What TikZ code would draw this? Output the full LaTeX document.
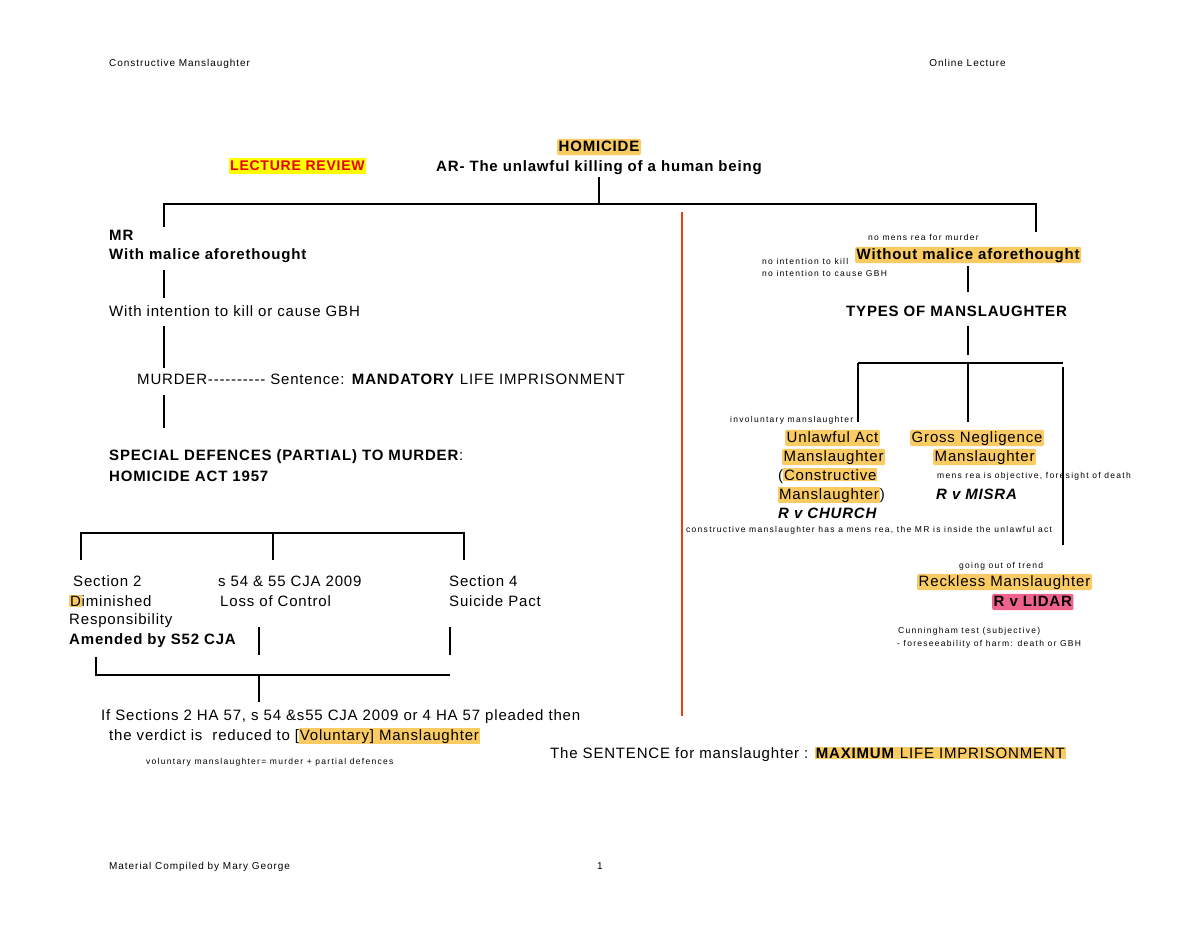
\documentclass[tikz,border=0pt]{standalone}
\usepackage{fontspec}
\setmainfont[LetterSpace=5.5]{Liberation Sans}
\newfontfamily\tinyfont[LetterSpace=15]{Liberation Sans}
\newfontfamily\hdrfont[LetterSpace=9.5]{Liberation Sans}
\definecolor{hlorange}{RGB}{250,203,98}
\definecolor{hlpink}{RGB}{238,98,140}
\definecolor{hlyellow}{RGB}{255,255,0}
\definecolor{lecred}{RGB}{232,0,0}
\definecolor{redrule}{RGB}{232,62,24}
\newcommand{\hlt}[1]{{\setlength{\fboxsep}{0.8pt}\colorbox{hlorange}{#1}}}
\newcommand{\dashrun}{-{}-{}-{}-{}-{}-{}-{}-{}-{}-}
\begin{document}
\begin{tikzpicture}[x=1pt,y=-1pt,
  txt/.style={inner sep=0pt,anchor=base west,font=\fontsize{15}{18}\selectfont,
    text height=11.2pt,text depth=3.2pt},
  bld/.style={txt,font=\fontsize{15}{18}\selectfont\bfseries},
  bit/.style={txt,font=\fontsize{15}{18}\selectfont\bfseries\itshape},
  small/.style={inner sep=0pt,anchor=base west,font=\fontsize{8.5}{10}\selectfont\tinyfont},
  hdr/.style={inner sep=0pt,anchor=base west,font=\fontsize{10}{12}\selectfont\hdrfont},
  hl/.style={fill=hlorange,rounded corners=2pt,inner xsep=1.5pt,inner ysep=1pt},
  conn/.style={line width=2.2pt},
  bar/.style={line width=2.6pt}]
  \useasboundingbox (0,0) rectangle (1200,927);
  % page header and footer
  \node[hdr] (hleft) at (109,66) {Constructive Manslaughter};
  \node[hdr,anchor=base east] (hright) at (1006,66) {Online Lecture};
  \node[hdr] (fleft) at (109,869) {Material Compiled by Mary George};
  \node[hdr,anchor=base] (fpage) at (600,869) {1};

  % top
  \node[bld,hl,anchor=base] (hom) at (599,151) {HOMICIDE};
  \node[bld,anchor=base] (ar) at (599,171) {AR- The unlawful killing of a human being};
  \node[bld,font=\fontsize{14}{16}\selectfont\bfseries,text=lecred,fill=hlyellow,inner xsep=1pt,inner ysep=1pt] (lec) at (229,170) {LECTURE REVIEW};
  \coordinate (topbar) at (599,204);
  \coordinate (tbl) at (164,204);
  \coordinate (tbr) at (1036,204);
  \coordinate (mrdrop) at (164,227);
  \coordinate (wmdrop) at (1036,232);
  \draw[conn,shorten <=3pt] (ar.south) -- (topbar);
  \draw[bar] (mrdrop) -- (tbl) -- (tbr) -- (wmdrop);
  \coordinate (rtop) at (682,212);
  \coordinate (rbot) at (682,716);
  \draw[redrule,line width=2.6pt] (rtop) -- (rbot);

  % murder side
  \coordinate (spine) at (164,0);
  \node[bld] (mr) at (109,240) {MR};
  \node[bld] (malice) at (109,259) {With malice aforethought};
  \node[txt] (intent) at (109,316) {With intention to kill or cause GBH};
  \node[txt] (murder) at (137,384) {MURDER\dashrun\ Sentence: \textbf{MANDATORY} LIFE IMPRISONMENT};
  \node[bld] (special) at (109,460) {SPECIAL DEFENCES (PARTIAL) TO MURDER\textmd{:}};
  \node[bld] (hact) at (109,481) {HOMICIDE ACT 1957};
  \draw[conn,shorten <=8pt,shorten >=7pt] (malice.south -| spine) -- (intent.north -| spine);
  \draw[conn,shorten <=7pt,shorten >=5pt] (intent.south -| spine) -- (murder.north -| spine);
  \draw[conn,shorten <=8pt,shorten >=21pt] (murder.south -| spine) -- (special.north -| spine);

  % partial defences
  \node[txt] (sec2a) at (73,586) {Section 2};
  \node[txt] (sec2b) at (69,606) {\hlt{D}iminished};
  \node[txt] (sec2c) at (69,624) {Responsibility};
  \node[bld] (sec2d) at (69,644) {Amended by S52 CJA};
  \node[txt] (s54a) at (218,586) {s 54 \& 55 CJA 2009};
  \node[txt] (s54b) at (220,606) {Loss of Control};
  \node[txt] (sec4a) at (449,586) {Section 4};
  \node[txt] (sec4b) at (449,606) {Suicide Pact};
  \coordinate (dl) at (81,533);
  \coordinate (dm) at (273,533);
  \coordinate (dr) at (464,533);
  \draw[bar,shorten <=15pt,shorten >=15pt] (dl |- sec2a.north) -- (dl) -- (dr) -- (dr |- sec4a.north);
  \draw[bar,shorten >=15pt] (dm) -- (dm |- s54a.north);

  % verdict
  \coordinate (jl) at (96,675);
  \coordinate (jm) at (259,675);
  \coordinate (jr) at (450,675);
  \node[txt] (v1) at (101,720) {If Sections 2 HA 57, s 54 \&s55 CJA 2009 or 4 HA 57 pleaded then};
  \node[txt] (v2) at (109,740) {the verdict is \ reduced to [\hlt{Voluntary] Manslaughter}};
  \node[small] (vnote) at (146,764) {voluntary manslaughter= murder + partial defences};
  \draw[bar,shorten <=10pt] (jl |- sec2d.south) -- (jl) -- (jr);
  \draw[conn,shorten <=18pt,shorten >=20pt] (jm |- s54b.south) -- (jm);
  \draw[conn,shorten <=18pt,shorten >=20pt] (jr |- sec4b.south) -- (jr);
  \draw[conn,shorten >=7pt] (jm) -- (jm |- v1.north);
  \node[txt] (sent) at (550,758) {The SENTENCE for manslaughter : \hlt{\textbf{MAXIMUM} LIFE IMPRISONMENT}};

  % manslaughter side
  \node[small] (nomr) at (868,240) {no mens rea for murder};
  \node[bld,hl] (wma) at (855,259) {Without malice aforethought};
  \node[small] (noik) at (762,264) {no intention to kill};
  \node[small] (nocg) at (762,276) {no intention to cause GBH};
  \node[bld] (types) at (846,316) {TYPES OF MANSLAUGHTER};
  \coordinate (bl) at (858,363);
  \coordinate (bm) at (968,363);
  \coordinate (br) at (1063,363);
  \draw[conn,shorten <=3pt,shorten >=13pt] (wma.south -| bm) -- (types.north -| bm);
  \draw[conn,shorten <=7pt,shorten >=8pt] (types.south -| bm) -- (bm);
  \draw[bar] (bl) -- (br);

  \node[small] (invol) at (730,422) {involuntary manslaughter};
  \node[txt,hl] (ual1) at (785,442) {Unlawful Act};
  \node[txt,hl] (ual2) at (782,461) {Manslaughter};
  \node[txt] (ual3) at (778,480) {(\hlt{Constructive}};
  \node[txt] (ual4) at (778,499) {\hlt{Manslaughter})};
  \node[bit] (church) at (778,518) {R v CHURCH};
  \node[txt,hl] (gn1) at (910,442) {Gross Negligence};
  \node[txt,hl] (gn2) at (933,461) {Manslaughter};
  \node[small] (mrobj) at (937,478) {mens rea is objective, foresight of death};
  \node[bit] (misra) at (936,499) {R v MISRA};
  \node[small] (constr) at (686,532) {constructive manslaughter has a mens rea, the MR is inside the unlawful act};
  \node[small] (trend) at (959,568) {going out of trend};
  \node[txt,hl] (reck) at (917,586) {Reckless Manslaughter};
  \node[bld,hl,fill=hlpink] (lidar) at (992,606) {R v LIDAR};
  \node[small] (cunn1) at (898,633) {Cunningham test (subjective)};
  \node[small] (cunn2) at (897,646) {- foreseeability of harm: death or GBH};
  \draw[conn,shorten >=8pt] (bl) -- (bl |- ual1.north);
  \draw[conn,shorten >=8pt] (bm) -- (bm |- gn1.north);
  \draw[conn,shorten <=4pt,shorten >=29pt] (br) -- (br |- reck.north);
\end{tikzpicture}
\end{document}
